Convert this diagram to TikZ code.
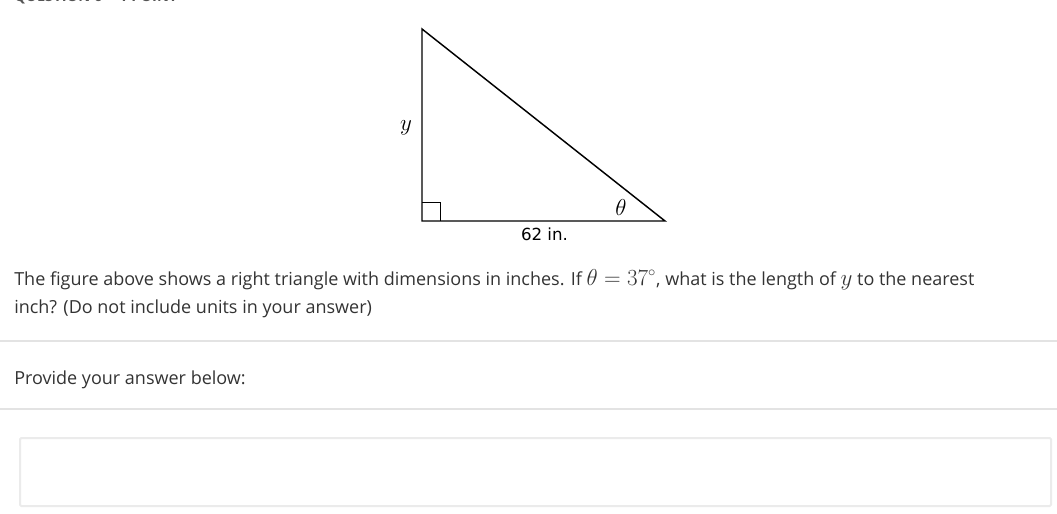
\documentclass[tikz,border=0pt]{standalone}
\usepackage{fontspec}
\setmainfont{Open Sans}
\newfontfamily\dejavu{DejaVu Sans}
\usepackage{amsmath}
\definecolor{txt}{HTML}{333333}
\definecolor{rule}{HTML}{E3E3E3}
\definecolor{boxc}{HTML}{EBEBEB}
\definecolor{head}{HTML}{555555}
\newcommand{\bm}[1]{{\fontsize{16.3}{16}\selectfont$#1$}}
\tikzset{
  body/.style={anchor=base west, inner sep=0pt, text=txt, font=\fontsize{13.5}{16}\selectfont},
  lbl/.style={inner sep=0pt},
  edge/.style={line width=1.1pt, black},
  sep/.style={line width=1.5pt, rule},
}
\begin{document}
\begin{tikzpicture}[x=0.75pt, y=-0.75pt]
\useasboundingbox (0,0) rectangle (1057,514);
\begin{scope}
\clip (0,0) rectangle (1057,514);
\node[anchor=base west, inner sep=0pt, text=head, font=\fontsize{11}{13}\selectfont\bfseries] (hd) at (14,2) {QUESTION 6 \,·\, 1 POINT};
\end{scope}
% triangle
\coordinate (A) at (422,29);
\coordinate (B) at (422,221);
\coordinate (C) at (665,221);
\draw[edge, line join=miter] (A) -- (B) -- (C) -- cycle;
\draw[line width=1.1pt] (422,202.5) -| (440.5,221);
\node[lbl, font=\fontsize{16}{18}\selectfont] (ylab) at (406,128) {$y$};
\node[lbl, anchor=base, font=\fontsize{16}{18}\selectfont] (th) at (621,215) {$\theta$};
\node[lbl, anchor=base, font=\dejavu\fontsize{12.5}{15}\selectfont] (base) at (544.5,240.5) {62 in.};
% question text
\node[body] (q1) at (14,285) {The figure above shows a right triangle with dimensions in inches. If \bm{\theta = 37^\circ}, what is the length of \bm{y} to the nearest};
\node[body] (q2) at (14,313) {inch? (Do not include units in your answer)};
\draw[sep] (0,341) -- (1057,341);
\node[body] (pr) at (14,384) {Provide your answer below:};
\draw[sep] (0,408.5) -- (1057,408.5);
\draw[line width=1.5pt, boxc, rounded corners=1pt] (20,438) rectangle (1051,506);
\end{tikzpicture}
\end{document}
